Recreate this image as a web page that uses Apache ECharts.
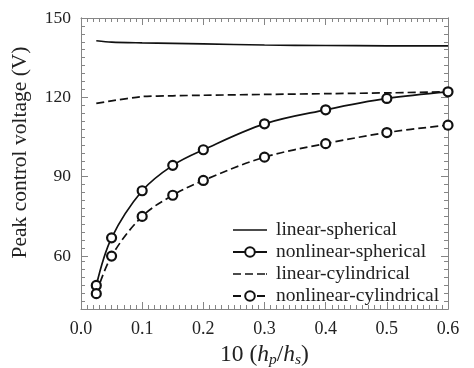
<!DOCTYPE html>
<html>
<head>
<meta charset="utf-8">
<script src="https://cdn.jsdelivr.net/npm/echarts@6/dist/echarts.min.js"></script>
<style>html,body{margin:0;padding:0;background:#fff;}#c{width:474px;height:368px;}</style>
</head>
<body>
<div id="c"></div>
<script>
const seriesNames = ['linear-spherical', 'nonlinear-spherical', 'linear-cylindrical', 'nonlinear-cylindrical'];
const xLinear = [0.025, 0.05, 0.1, 0.15, 0.2, 0.3, 0.4, 0.5, 0.6];
const linearSpherical = [141.4, 140.9, 140.6, 140.4, 140.2, 139.8, 139.6, 139.5, 139.5];
const linearCylindrical = [117.7, 118.7, 120.3, 120.6, 120.8, 121.1, 121.4, 121.7, 122.1];
const xNonlinear = [0.025, 0.05, 0.1, 0.15, 0.2, 0.3, 0.4, 0.5, 0.6];
const nonlinearSpherical = [48.9, 66.9, 84.7, 94.3, 100.2, 110.0, 115.3, 119.6, 122.1];
const nonlinearCylindrical = [45.8, 60.0, 75.0, 83.0, 88.6, 97.4, 102.5, 106.7, 109.5];
const yTickLabels = [60, 90, 120, 150];
const yMinorTicks = [43, 46, 49, 52, 55, 58, 63, 66, 69, 72, 75, 78, 81, 84, 87, 93, 96, 99, 102, 105, 108, 111, 114, 117, 123, 126, 129, 132, 135, 138, 141, 144, 147];

const pairs = (xs, ys) => xs.map((x, i) => [x, ys[i]]);
const font = '"Liberation Serif", "DejaVu Serif", serif';
const ink = '#111';
const txt = '#222';
const frame = '#858585';

const solidIcon = 'path://M0,0h34v1.7h-34z';
const dashIcon = 'path://M0,0h8v1.7h-8z M12,0h8v1.7h-8z M24,0h8v1.7h-8z M33,0h1v1.7h-1z';

const yBase = {min: 40, max: 150, type: 'value', splitLine: {show: false},
  axisLine: {show: true, lineStyle: {color: frame, width: 1}}};

const option = {
  animation: false,
  backgroundColor: '#fff',
  grid: {left: 81, right: 26, top: 18, bottom: 59, containLabel: false, outerBoundsMode: 'none'},
  legend: {
    orient: 'vertical', left: 227, top: 215, itemWidth: 34, itemHeight: 12, itemGap: 2,
    data: [
      {name: seriesNames[0], icon: solidIcon, itemStyle: {color: ink}},
      {name: seriesNames[1]},
      {name: seriesNames[2], icon: dashIcon, itemStyle: {color: ink}},
      {name: seriesNames[3]}
    ],
    textStyle: {fontFamily: font, fontSize: 19.5, lineHeight: 20, color: txt, padding: [0, 0, 0, 4]}
  },
  xAxis: [
    {type: 'value', min: 0, max: 0.6, interval: 0.1, position: 'bottom',
     axisLine: {lineStyle: {color: frame}},
     axisTick: {inside: true, length: 7, lineStyle: {color: frame}},
     minorTick: {show: true, splitNumber: 10, length: 4, lineStyle: {color: frame}},
     axisLabel: {fontFamily: font, fontSize: 18, color: txt, margin: 11, formatter: v => v.toFixed(1)},
     splitLine: {show: false}, minorSplitLine: {show: false},
     name: '10 ({i|h}{s|p}/{i|h}{s|s})', nameLocation: 'middle', nameGap: 31,
     nameTextStyle: {fontFamily: font, fontSize: 23.5, color: txt,
       rich: {i: {fontFamily: font, fontSize: 23.5, fontStyle: 'italic', color: txt},
              s: {fontFamily: font, fontSize: 15.5, fontStyle: 'italic', color: txt, padding: [11, 0, 0, 0]}}}},
    {type: 'value', min: 0, max: 0.6, interval: 0.1, position: 'top',
     axisLine: {lineStyle: {color: frame}},
     axisTick: {inside: true, length: 7, lineStyle: {color: frame}},
     minorTick: {show: true, splitNumber: 10, length: 4, lineStyle: {color: frame}},
     axisLabel: {show: false}, splitLine: {show: false}}
  ],
  yAxis: [
    Object.assign({}, yBase, {position: 'left',
      axisLabel: {customValues: yTickLabels, fontFamily: font, fontSize: 17.5, color: txt, margin: 10},
      axisTick: {customValues: yTickLabels, inside: true, length: 7, lineStyle: {color: frame}},
      name: 'Peak control voltage (V)', nameLocation: 'middle', nameGap: 50,
      nameTextStyle: {fontFamily: font, fontSize: 21.5, color: txt, padding: [0, 0, 0, 22]}}),
    Object.assign({}, yBase, {position: 'left',
      axisLabel: {show: false},
      axisTick: {customValues: yMinorTicks, inside: true, length: 4, lineStyle: {color: frame}}}),
    Object.assign({}, yBase, {position: 'right',
      axisLabel: {show: false},
      axisTick: {customValues: yTickLabels, inside: true, length: 7, lineStyle: {color: frame}}}),
    Object.assign({}, yBase, {position: 'right',
      axisLabel: {show: false},
      axisTick: {customValues: yMinorTicks, inside: true, length: 4, lineStyle: {color: frame}}})
  ],
  series: [
    {name: seriesNames[0], type: 'line', data: pairs(xLinear, linearSpherical), symbol: 'none',
     smooth: 0.3, lineStyle: {color: ink, width: 1.7, type: 'solid'}, itemStyle: {color: ink}},
    {name: seriesNames[1], type: 'line', data: pairs(xNonlinear, nonlinearSpherical), symbol: 'circle', symbolSize: 9,
     smooth: 0.35, lineStyle: {color: ink, width: 1.7, type: 'solid'},
     itemStyle: {color: '#fff', borderColor: ink, borderWidth: 2.2}},
    {name: seriesNames[2], type: 'line', data: pairs(xLinear, linearCylindrical), symbol: 'none',
     smooth: 0.2, lineStyle: {color: ink, width: 1.7, type: [8, 4]}, itemStyle: {color: ink}},
    {name: seriesNames[3], type: 'line', data: pairs(xNonlinear, nonlinearCylindrical), symbol: 'circle', symbolSize: 9,
     smooth: 0.35, lineStyle: {color: ink, width: 1.7, type: [8, 4]},
     itemStyle: {color: '#fff', borderColor: ink, borderWidth: 2.2}}
  ]
};
echarts.init(document.getElementById('c')).setOption(option);
</script>
</body>
</html>
